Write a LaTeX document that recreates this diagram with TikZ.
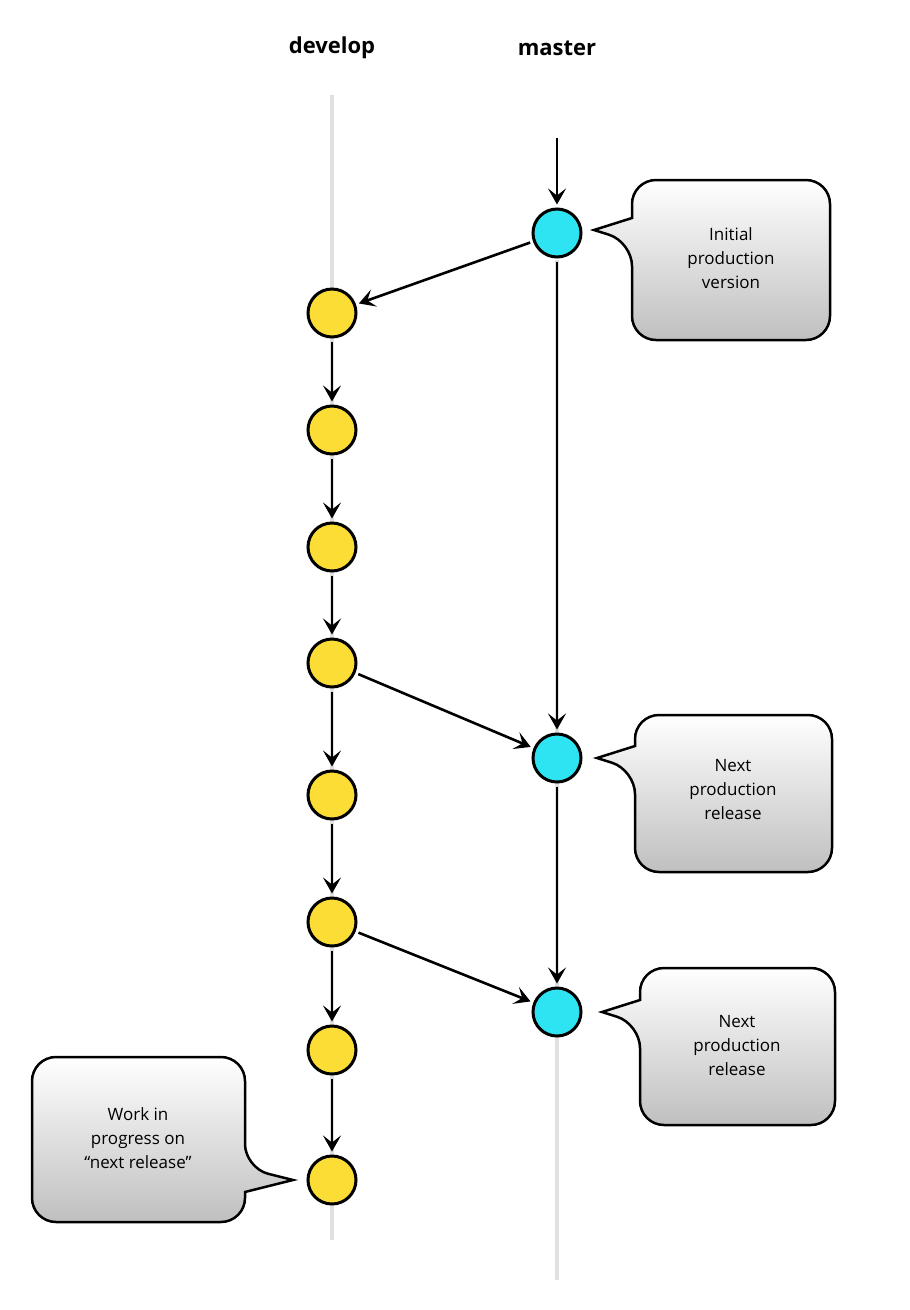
\documentclass[tikz,border=0pt]{standalone}
\usepackage{fontspec}
\setmainfont{Open Sans}
\usetikzlibrary{arrows.meta}
\definecolor{dev}{HTML}{FCDD35}
\definecolor{mas}{HTML}{2EE3F2}
\begin{document}
\begin{tikzpicture}[x=1pt,y=-1pt,
  commit/.style={circle,draw=black,line width=3pt,minimum size=48pt,inner sep=0pt},
  dc/.style={commit,fill=dev},
  mc/.style={commit,fill=mas},
  arr/.style={line width=2.6pt,-{Stealth[length=16pt,width=18pt,inset=7pt]},shorten >=3pt,shorten <=3pt},
  lane/.style={line width=4pt,draw=black!12},
  title/.style={font=\bfseries\fontsize{22}{26}\selectfont},
  callout/.style={draw=black,line width=2.5pt,top color=white,bottom color=black!25},
  ctext/.style={align=center,font=\fontsize{17}{24}\selectfont}]
\useasboundingbox (0,0) rectangle (910,1310);
\draw[lane] (332,95) -- (332,1240);
\draw[lane] (557,260) -- (557,1280);
\node[title] (tdev) at (332,48) {develop};
\node[title] (tmas) at (557,48) {master};
\coordinate (top) at (557,135);
\foreach \i/\y in {1/313,2/430,3/547,4/663,5/795,6/922,7/1050,8/1180}
  \node[dc] (d\i) at (332,\y) {};
\node[mc] (m1) at (557,233) {};
\node[mc] (m2) at (557,758) {};
\node[mc] (m3) at (557,1012) {};
\draw[arr] (top) -- (m1);
\draw[arr] (m1) -- (m2);
\draw[arr] (m2) -- (m3);
\foreach \a/\b in {1/2,2/3,3/4,4/5,5/6,6/7,7/8}
  \draw[arr] (d\a) -- (d\b);
\draw[arr] (m1) -- (d1);
\draw[arr] (d4) -- (m2);
\draw[arr] (d6) -- (m3);
% callouts
\path[callout] (632,242) -- (594,230) -- (632,218) [rounded corners=24] -- (632,180) -- (830,180) -- (830,340) -- (632,340) -- cycle;
\node[ctext] (c1) at (731,258) {Initial\\production\\version};
\path[callout] (635,770) -- (597,758) -- (635,746) [rounded corners=24] -- (635,715) -- (832,715) -- (832,872) -- (635,872) -- cycle;
\node[ctext] (c2) at (733,790) {Next\\production\\release};
\path[callout] (640,1024) -- (602,1012) -- (640,1000) [rounded corners=24] -- (640,968) -- (835,968) -- (835,1125) -- (640,1125) -- cycle;
\node[ctext] (c3) at (737,1046) {Next\\production\\release};
\path[callout] (245,1168) -- (293,1180) -- (245,1192) [rounded corners=24] -- (245,1222) -- (32,1222) -- (32,1057) -- (245,1057) -- cycle;
\node[ctext] (c4) at (138,1138) {Work in\\progress on\\“next release”};
\end{tikzpicture}
\end{document}
